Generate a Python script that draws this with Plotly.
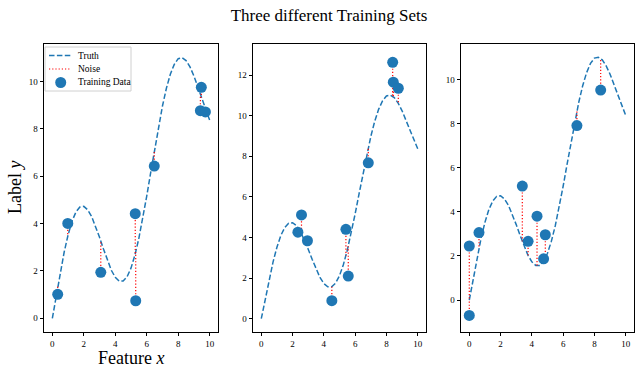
import plotly.graph_objects as go

# Truth curve values
truth_x = [0.0, 0.25, 0.5, 0.75, 1.0, 1.25, 1.5, 1.75, 2.0, 2.25, 2.5, 2.75, 3.0, 3.25, 3.5, 3.75,
           4.0, 4.25, 4.5, 4.75, 5.0, 5.25, 5.5, 5.75, 6.0, 6.25, 6.5, 6.75, 7.0, 7.25, 7.5, 7.75,
           8.0, 8.25, 8.5, 8.75, 9.0, 9.25, 9.5, 9.75, 10.0]
truth_y = [0.00, 0.99, 1.94, 2.79, 3.52, 4.10, 4.49, 4.70, 4.73, 4.58, 4.30, 3.90, 3.42, 2.93, 2.45, 2.03,
           1.73, 1.57, 1.57, 1.75, 2.12, 2.67, 3.38, 4.22, 5.16, 6.15, 7.15, 8.10, 8.97, 9.72, 10.31, 10.73,
           10.97, 11.01, 10.89, 10.62, 10.24, 9.77, 9.27, 8.79, 8.37]

# Training sets
set1_x = [0.34, 0.98, 3.08, 5.27, 5.30, 6.48, 9.47, 9.41, 9.73]
set1_y = [1.01, 4.01, 1.94, 4.42, 0.74, 6.43, 9.76, 8.77, 8.72]
set1_truth = [1.34, 3.47, 3.26, 2.72, 2.80, 7.07, 9.33, 9.45, 8.83]

set2_x = [2.34, 2.57, 2.95, 4.51, 5.41, 5.56, 6.84, 8.40, 8.44, 8.76]
set2_y = [4.26, 5.11, 3.84, 0.89, 4.40, 2.10, 7.68, 12.63, 11.65, 11.35]
set2_truth = [4.49, 4.19, 3.52, 1.57, 3.11, 3.57, 8.43, 10.96, 10.94, 10.61]

set3_x = [0.00, 0.00, 0.62, 3.39, 3.76, 4.33, 4.75, 4.86, 6.88, 8.40]
set3_y = [2.45, -0.70, 3.06, 5.17, 2.66, 3.80, 1.87, 2.96, 7.91, 9.52]
set3_truth = [0.00, 0.00, 2.36, 2.65, 2.02, 1.55, 1.75, 1.89, 8.57, 10.96]

legend_labels = ["Truth", "Noise", "Training Data"]

x_ticks = [0, 2, 4, 6, 8, 10]
y_ticks = [[0, 2, 4, 6, 8, 10], [0, 2, 4, 6, 8, 10, 12], [0, 2, 4, 6, 8, 10]]
y_ranges = [[-0.58, 11.59], [-0.655, 13.53], [-1.45, 11.61]]

sets = [(set1_x, set1_y, set1_truth), (set2_x, set2_y, set2_truth), (set3_x, set3_y, set3_truth)]

BLUE = "#1f77b4"
FONT = "Liberation Serif"
W, H = 640, 371
TRUTH_DASH = "5.5px,2.4px"
NOISE_DASH = "1.2px,2px"

fig = go.Figure()
x_domains = [[44 / W, 218 / W], [253 / W, 426 / W], [461 / W, 634 / W]]
y_domain = [1 - 332 / H, 1 - 44 / H]

for i, (xs, ys, ts) in enumerate(sets):
    ax = "" if i == 0 else str(i + 1)
    xa, ya = "x" + ax, "y" + ax
    fig.add_trace(go.Scatter(x=truth_x, y=truth_y, mode="lines", name="Truth",
                             line=dict(color=BLUE, dash=TRUTH_DASH, width=1.5),
                             xaxis=xa, yaxis=ya, showlegend=False))
    nx, ny = [], []
    for x, y, t in zip(xs, ys, ts):
        nx += [x, x, None]
        ny += [y, t, None]
    fig.add_trace(go.Scatter(x=nx, y=ny, mode="lines", name="Noise",
                             line=dict(color="red", dash=NOISE_DASH, width=1.2),
                             xaxis=xa, yaxis=ya, showlegend=False))
    fig.add_trace(go.Scatter(x=xs, y=ys, mode="markers", name="Training Data",
                             marker=dict(color=BLUE, size=11),
                             xaxis=xa, yaxis=ya, showlegend=False))


def px(x):
    return x / W


def py(y):
    return 1 - y / H


# Manual legend (box, symbols, labels)
shapes = [
    dict(type="rect", xref="paper", yref="paper", x0=px(45), x1=px(131), y0=py(47), y1=py(91),
         line=dict(color="#d0d0d0", width=1), fillcolor="rgba(255,255,255,0.8)", layer="above"),
    dict(type="line", xref="paper", yref="paper", x0=px(49), x1=px(71), y0=py(55.5), y1=py(55.5),
         line=dict(color=BLUE, width=1.5, dash=TRUTH_DASH), layer="above"),
    dict(type="line", xref="paper", yref="paper", x0=px(49), x1=px(71), y0=py(69), y1=py(69),
         line=dict(color="red", width=1.2, dash=NOISE_DASH), layer="above"),
    dict(type="circle", xref="paper", yref="paper", x0=px(55.2), x1=px(66.2), y0=py(77), y1=py(88),
         line=dict(color=BLUE, width=0), fillcolor=BLUE, layer="above"),
]
annotations = [
    dict(text=lab, xref="paper", yref="paper", x=px(76), y=py(yy), xanchor="left", yanchor="middle",
         showarrow=False, font=dict(family=FONT, size=9.5, color="black"))
    for lab, yy in zip(legend_labels, [55.5, 69, 82.5])
]
annotations += [
    dict(text="Feature <i>x</i>", xref="paper", yref="paper", x=px(131), y=py(358),
         xanchor="center", yanchor="middle", showarrow=False,
         font=dict(family=FONT, size=18, color="black")),
    dict(text="Label <i>y</i>", xref="paper", yref="paper", x=px(15), y=py(188),
         xanchor="center", yanchor="middle", showarrow=False, textangle=-90,
         font=dict(family=FONT, size=18, color="black")),
]

axis_common = dict(showline=True, linecolor="black", linewidth=0.8, mirror=True,
                   ticks="outside", ticklen=3.5, tickwidth=0.8, tickcolor="black",
                   showgrid=False, zeroline=False, automargin=False,
                   tickfont=dict(family=FONT, size=9, color="black"))

layout = dict(
    width=W, height=H,
    margin=dict(l=0, r=0, t=0, b=0, autoexpand=False),
    plot_bgcolor="white", paper_bgcolor="white",
    font=dict(family=FONT, color="black"),
    showlegend=False,
    title=dict(text="Three different Training Sets", x=329 / W, xanchor="center",
               y=py(15), yanchor="middle", automargin=False,
               font=dict(family=FONT, size=17, color="black")),
    shapes=shapes,
    annotations=annotations,
)

for i in range(3):
    ax = "" if i == 0 else str(i + 1)
    layout["xaxis" + ax] = dict(axis_common, domain=x_domains[i], range=[-0.53, 10.53],
                                tickvals=x_ticks, anchor="y" + ax)
    layout["yaxis" + ax] = dict(axis_common, domain=y_domain, range=y_ranges[i],
                                tickvals=y_ticks[i], anchor="x" + ax)

fig.update_layout(**layout)
fig.write_html("out.html", config={"displayModeBar": False},
               post_script="document.body.style.margin='0';document.body.style.padding='0';"
                           "document.body.style.overflow='hidden';")
